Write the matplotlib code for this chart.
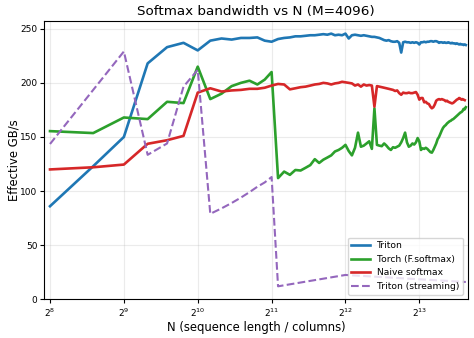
import numpy as np
import matplotlib
matplotlib.use("Agg")
import matplotlib.pyplot as plt
from matplotlib.ticker import NullLocator

# N = 128 * i for i in 2..99
n_cols = [128 * i for i in range(2, 100)]

triton = [
    86, 123, 150, 218, 233, 237, 230, 239, 241, 240,
    241.5, 241.5, 242, 239, 238, 240.5, 241.5, 242, 243, 243,
    243.5, 244, 244, 244.5, 245, 244.5, 245.5, 244, 244.5, 244,
    245.5, 241, 244, 244.5, 244, 243.5, 244, 243.5, 243, 242.5,
    242.5, 242, 241.5, 240.5, 239.5, 239, 239.5, 238.5, 238, 238,
    238.5, 237, 228, 237.5, 238, 237.5, 237.5, 237, 237.5, 237,
    237.5, 237, 235.5, 237.5, 237.5, 238, 237.5, 238, 238, 238.5,
    238.5, 238, 238.5, 238.5, 238, 237, 237.5, 237.5, 237, 237.5,
    237, 237, 237.5, 237, 236.5, 237, 236.5, 236.5, 236, 236.5,
    236, 235.5, 236, 235.5, 235.5, 235, 235.5, 235,
]

torch_sm = [
    155.4, 153.6, 168, 166.5, 182.5, 181.3, 215, 185, 190, 197,
    200, 202, 198.5, 203, 210, 112, 118, 115, 119.5, 119,
    121.5, 124, 129.5, 126, 129, 131, 133, 136.6, 138, 140,
    142.7, 137, 133, 140, 154, 141, 142, 144, 146, 139,
    176.5, 142.7, 142, 141.5, 144, 142, 139.5, 138, 140.5, 140,
    141, 142, 145, 149, 154, 145, 141, 142, 144, 143,
    145, 149, 146, 138, 139.5, 139, 140, 139, 137.5, 136,
    135.5, 138, 141, 144, 148, 150, 153, 156, 158.5, 160,
    161, 162.5, 163.5, 164.5, 165, 166, 166.5, 167.5, 168.5, 169.5,
    170.5, 171.5, 172.5, 173, 174, 176, 175.5, 177.5,
]

naive = [
    120, 122, 124.5, 143.7, 147, 151, 191, 195, 192, 193,
    193.5, 194.5, 194.5, 195.5, 197.5, 199, 198.5, 194, 195, 196,
    196.5, 197.5, 198.5, 199, 200, 199.5, 198.5, 199.5, 200, 201,
    200.5, 200, 199.5, 197.5, 198.5, 196.5, 198.5, 197.5, 198, 197.5,
    178, 197, 196.5, 196, 195.5, 195, 194.5, 194, 193.5, 192.5,
    193, 190.5, 189, 191, 190.5, 190.5, 191, 190.5, 190.5, 191,
    191.5, 189, 184.5, 186, 186, 182, 182.5, 181, 180.5, 178,
    176.5, 177.5, 180, 183.5, 184.5, 185, 184.5, 185, 184.5, 184,
    183, 183.5, 182.5, 182, 181.5, 181, 181.5, 182.5, 183.5, 184.5,
    185, 186, 185.5, 184.5, 185, 184.5, 184,
]

stream_n = [256, 512, 640, 768, 896, 1024, 1152, 1280, 1408, 1536,
            1664, 1792, 1920, 2048, 2176, 4096, 12672]
stream = [143.5, 229, 133.5, 144, 196.5, 212, 79, 84, 89, 94,
          99, 104, 108, 113, 12, 22.5, 16]

fig, ax = plt.subplots(figsize=(4.74, 3.38), dpi=100)
fig.subplots_adjust(left=0.0935, right=0.9867, bottom=0.1145, top=0.9379)

ax.plot(n_cols, triton, color="#1f77b4", lw=1.9, label="Triton")
ax.plot(n_cols, torch_sm, color="#2ca02c", lw=1.9, label="Torch (F.softmax)")
ax.plot(n_cols[:len(naive)], naive, color="#d62728", lw=1.9, label="Naive softmax")
ax.plot(stream_n, stream, color="#9467bd", lw=1.5, ls="--", label="Triton (streaming)")

ax.set_xscale("log", base=2)
ax.xaxis.set_minor_locator(NullLocator())
ax.set_xlim(2 ** 7.923, 2 ** 13.655)
ax.set_ylim(bottom=0)
ax.set_title("Softmax bandwidth vs N (M=4096)", fontsize=9.7, pad=4)
ax.set_xlabel("N (sequence length / columns)", fontsize=8.4, labelpad=1.5)
ax.set_ylabel("Effective GB/s", fontsize=8.4, labelpad=0)
ax.tick_params(labelsize=6.5, length=3, pad=2)
ax.grid(True, alpha=0.25)
ax.legend(loc="lower right", fontsize=6.6)

fig.savefig("out.png", dpi=100)
